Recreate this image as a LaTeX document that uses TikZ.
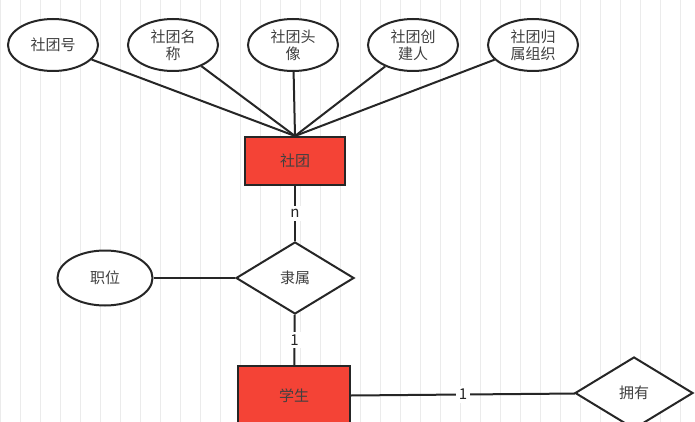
\documentclass[tikz,border=0pt]{standalone}
\usepackage{fontspec}
\setmainfont{Noto Sans CJK SC}
\usetikzlibrary{shapes.geometric}
\definecolor{entred}{RGB}{244,67,54}
\begin{document}
\begin{tikzpicture}[x=1pt,y=-1pt,font=\fontsize{15}{17}\selectfont,text=black!75]
\tikzstyle{line} = [draw, black!85, line width=2pt]
\tikzstyle{attr}=[ellipse,draw=black!85,line width=2pt,fill=white,minimum width=90pt,minimum height=52pt,inner sep=0pt,align=center]
\tikzstyle{entity}=[rectangle,draw=black!85,line width=2pt,fill=entred,minimum width=100pt,minimum height=48pt]
\tikzstyle{rel}=[diamond,draw=black!85,line width=2pt,fill=white,minimum width=118pt,minimum height=72pt,inner sep=0pt]
\tikzstyle{card}=[fill=white,inner sep=3pt]
\useasboundingbox (0,0) rectangle (695,422);
\fill[white] (0,0) rectangle (695,422);
\draw[black!8,line width=0.5pt] (0,0) grid[step=20] (695,422);
\node[attr] (A_1) at (53,45) {社团号};
\node[attr] (A_2) at (173,45) {社团名\\称};
\node[attr] (A_3) at (293,45) {社团头\\像};
\node[attr] (A_4) at (413,45) {社团创\\建人};
\node[attr] (A_5) at (533,45) {社团归\\属组织};
\node[entity] (E_1) at (295,161) {社团};
\node[rel] (R_1) at (295,278) {隶属};
\node[attr,minimum width=95pt,minimum height=55pt] (A_6) at (105,278) {职位};
\node[entity,minimum width=112pt,minimum height=60pt] (E_2) at (294,396) {学生};
\node[rel] (R_2) at (634,393) {拥有};
\path [line] (A_1) -- (E_1.north);
\path [line] (A_2) -- (E_1.north);
\path [line] (A_3) -- (E_1.north);
\path [line] (A_4) -- (E_1.north);
\path [line] (A_5) -- (E_1.north);
\path [line] (E_1) -- node[card]{n} (R_1);
\path [line] (A_6) -- (R_1);
\path [line] (R_1) -- node[card]{1} (E_2);
\path [line] (E_2) -- node[card,pos=0.5]{1} (R_2);
\end{tikzpicture}
\end{document}
